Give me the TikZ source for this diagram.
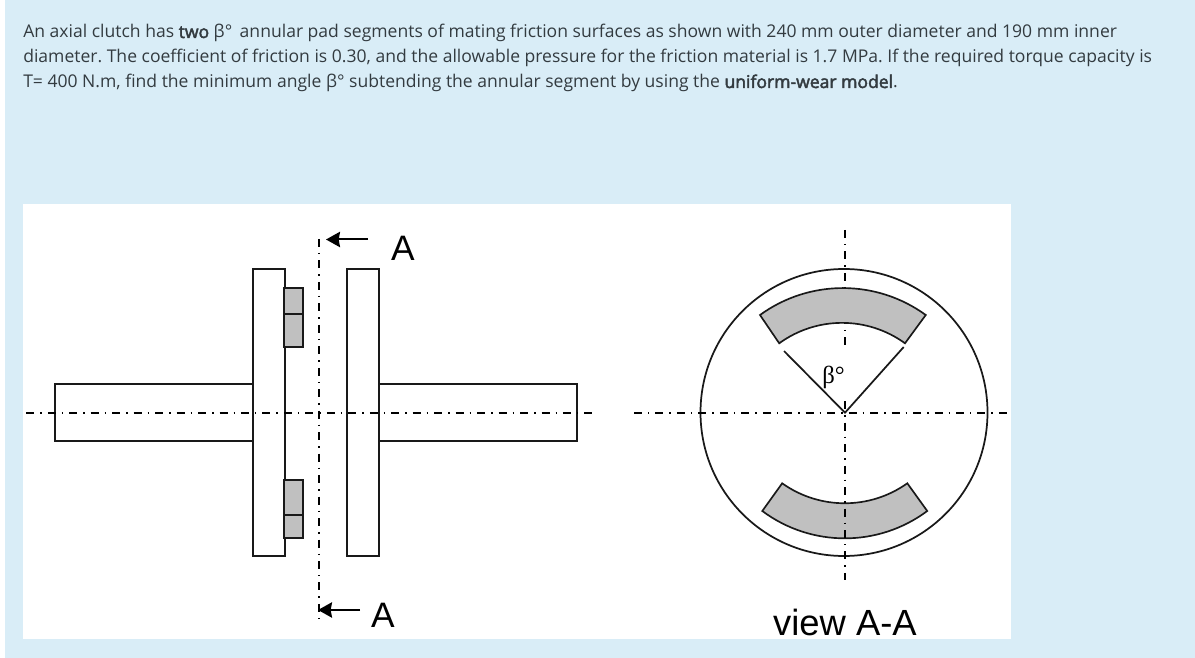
\documentclass[tikz,border=0pt]{standalone}
\usepackage{fontspec}
\usetikzlibrary{arrows.meta}
\setmainfont{Open Sans}
\newfontfamily\figfont{Liberation Sans}
\newfontfamily\betafont{Liberation Serif}
\newfontfamily\semib[FakeBold=2.5]{Open Sans}
\definecolor{panel}{HTML}{D9EDF7}
\definecolor{padgray}{HTML}{C0C0C0}
\definecolor{txt}{HTML}{333B40}
\frenchspacing
\begin{document}
\begin{tikzpicture}[x=0.75pt,y=0.75pt,
  part/.style={draw=black!90,line width=1.25pt,fill=white},
  pad/.style={draw=black!90,line width=1.25pt,fill=padgray},
  ring/.style={draw=black!90,line width=1.3pt},
  axis/.style={draw=black,line width=1.2pt,dash pattern=on 6pt off 4.5pt on 1.1pt off 4.5pt},
  sect/.style={draw=black,line width=1.5pt,-{Stealth[length=10.5pt,width=11.5pt,inset=1pt]}},
  body/.style={anchor=base west,inner sep=0pt,text=txt,font=\fontsize{13.16}{15}\selectfont},
  big/.style={inner sep=0pt,font=\figfont\fontsize{26.5}{30}\selectfont,text=black}]
\useasboundingbox (0,0) rectangle (1195,657);
\fill[white] (0,0) rectangle (1195,657);
\fill[panel,rounded corners=4pt] (5,-10) rectangle (1205,667);
\fill[white] (23,18) rectangle (1011,453);
% text
\node[body] (l1) at (23,619) {An axial clutch has {\semib two} β°\, annular pad segments of mating friction surfaces as shown with 240 mm outer diameter and 190 mm inner};
\node[body] (l2) at (23,594) {diameter. The coefficient of friction is 0.30, and the allowable pressure for the friction material is 1.7 MPa. If the required torque capacity is};
\node[body] (l3) at (23,569) {T= 400 N.m, find the minimum angle β° subtending the annular segment by using the {\semib uniform-wear model}.};
% shafts and plates
\draw[part] (55,216) rectangle (253,273);
\draw[part] (379,216) rectangle (577,273);
\draw[part] (253,101) rectangle (285,388);
\draw[part] (347,101) rectangle (379,388);
\draw[pad] (284,310) rectangle (303,369);
\draw[pad] (284,343) -- (303,343);
\draw[pad] (284,119) rectangle (303,177);
\draw[pad] (284,142) -- (303,142);
% axes
\coordinate (hl) at (26.3,244); \coordinate (hr) at (593,244);
\coordinate (vt) at (319,418); \coordinate (vb) at (319,38);
\draw[axis] (hl) -- (hr);
\draw[axis] (vt) -- (vb);
% section arrows
\coordinate (at) at (368,417.5); \coordinate (ah) at (326,417.5);
\coordinate (bt) at (360,47); \coordinate (bh) at (318,47);
\draw[sect] (at) -- (ah);
\draw[sect] (bt) -- (bh);
\node[big] (ta) at (403,409) {A};
\node[big] (tb) at (383,42) {A};
% end view
\coordinate (c) at (844,244.5);
\draw[ring,fill=white] (c) circle (143.5);
\draw[pad] (762.3,146) arc[start angle=233.3,end angle=306.7,radius=138] -- (907.3,173.7) arc[start angle=305.4,end angle=234.6,radius=108] -- cycle;
\coordinate (h2l) at (634,244); \coordinate (h2r) at (1007,244);
\coordinate (v2t) at (845,427); \coordinate (v2m) at (845,312);
\coordinate (v2n) at (845,255.8); \coordinate (v2b) at (845,77);
\draw[axis] (h2l) -- (h2r);
\draw[axis] (v2t) -- (v2m);
\draw[axis] (v2n) -- (v2b);
\draw[pad] (760,342) arc[start angle=126,end angle=54,radius=141] -- (905,313.7) arc[start angle=54,end angle=126,radius=107] -- cycle;
\coordinate (ca) at (845,244.3);
\coordinate (la) at (784,306); \coordinate (ra) at (903.7,310);
\draw[ring] (la) -- (ca) -- (ra);
\node[inner sep=0pt,font=\betafont\fontsize{18.5}{20}\selectfont] (beta) at (833.5,280) {β°};
\node[big,font=\figfont\fontsize{27.3}{30}\selectfont] (view) at (845,35) {view A-A};
\end{tikzpicture}
\end{document}
